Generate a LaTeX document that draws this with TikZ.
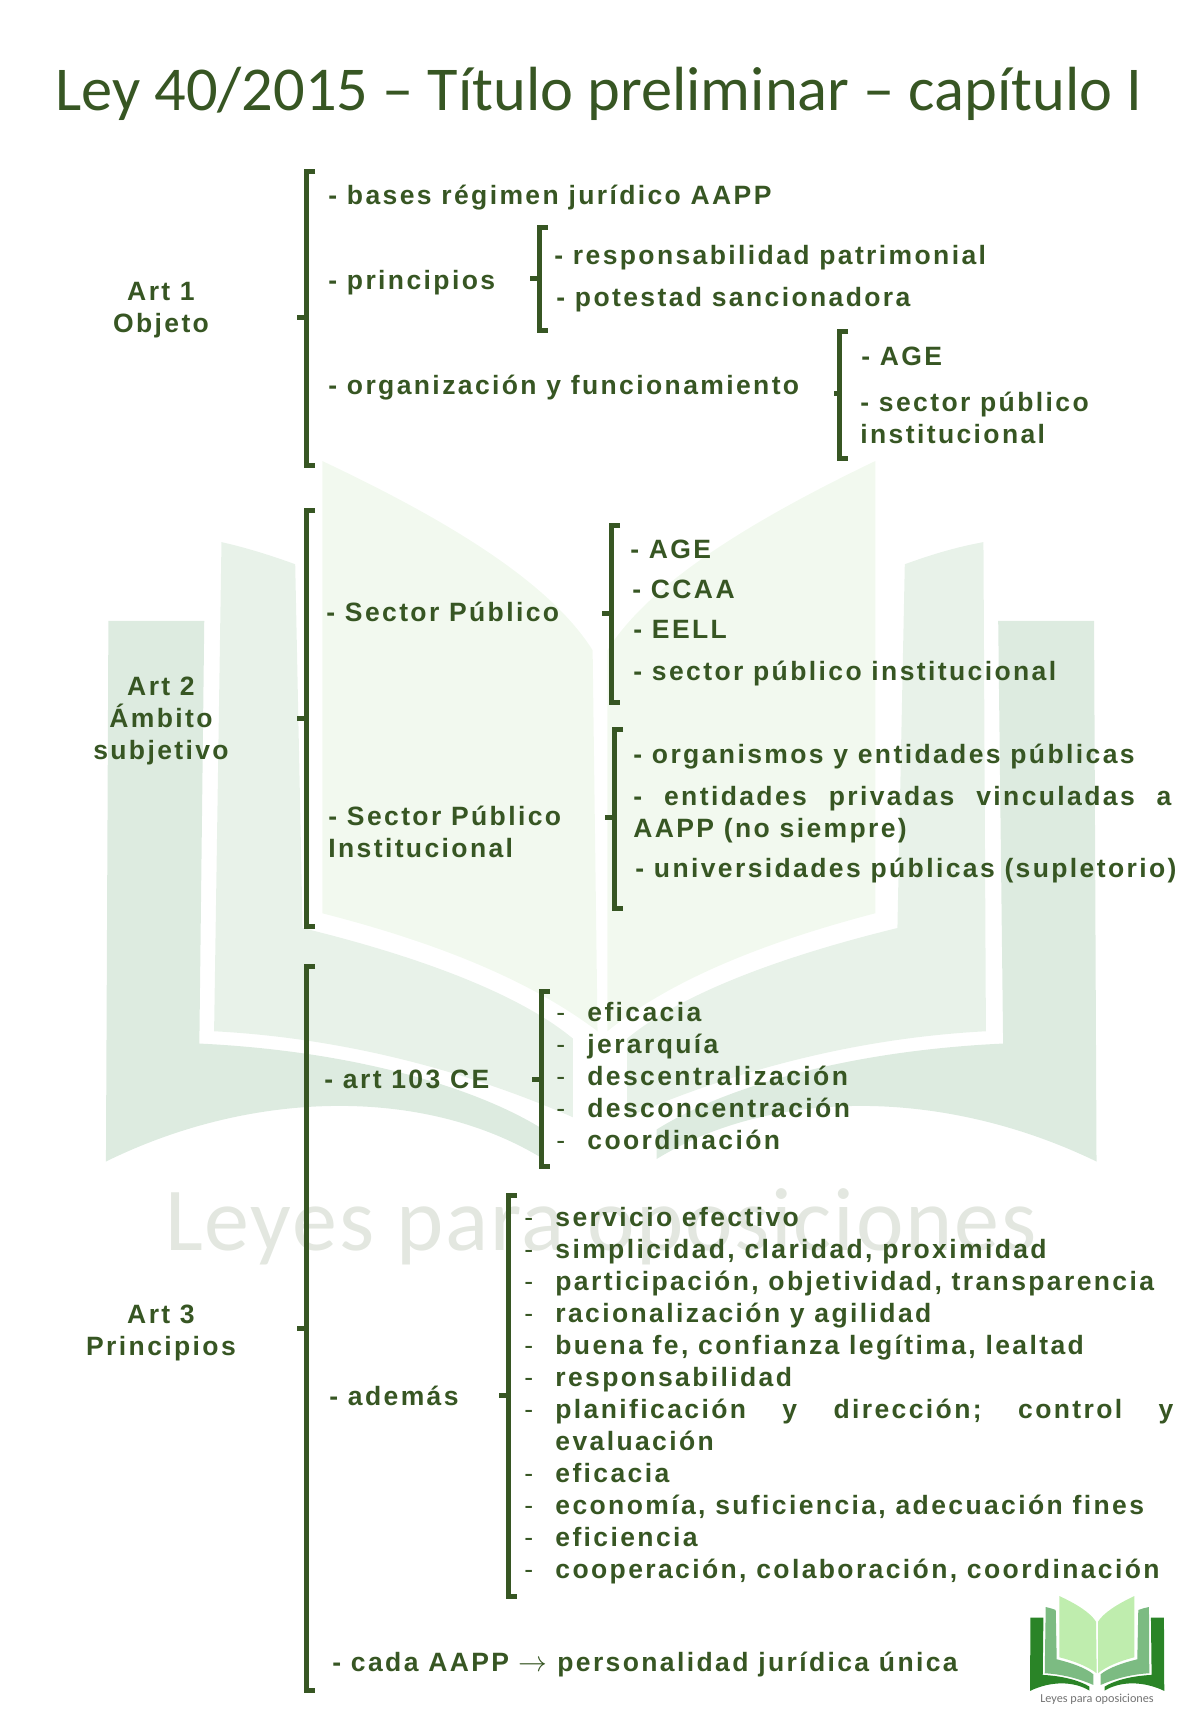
\documentclass[tikz,border=0pt]{standalone}
\usepackage{fontspec}
\setmainfont{Liberation Sans}
\newfontfamily\bodyfont[LetterSpace=9,BoldFont={Liberation Sans Bold}]{Liberation Sans}
\newfontfamily\headfont{Carlito}
\newfontfamily\markfont[LetterSpace=2]{Carlito}
\definecolor{leafgreen}{HTML}{375623}
\definecolor{wmlight}{HTML}{F2F9EF}
\definecolor{wmmid}{HTML}{E8F2E9}
\definecolor{wmdark}{HTML}{DDEBE0}
\definecolor{wmword}{HTML}{E3E7E0}
\definecolor{lglight}{HTML}{BFEDAE}
\definecolor{lgmid}{HTML}{7CBB82}
\definecolor{lgdark}{HTML}{2A8427}
\tikzset{
    titletext/.style={anchor=base west,inner sep=0pt,text=leafgreen,font=\headfont\fontsize{31.2}{31}\selectfont},
    bodytext/.style={anchor=base west,inner sep=0pt,text=leafgreen,font=\bodyfont\bfseries\fontsize{13.25}{16}\selectfont},
    arttext/.style={bodytext,anchor=base,align=center},
    bracketline/.style={draw=leafgreen,line width=2.5pt}
}
\newcommand{\bracketat}[5][9]{% tip length, x, top, tip, bottom
    \draw[bracketline] (#2+9,#3) -- (#2,#3) -- (#2,#5) -- (#2+9,#5);
    \draw[bracketline] (#2-#1,#4) -- (#2,#4);
}
\newcommand{\bookat}[6]{% x, y, scale, light, mid, dark
    \begin{scope}[shift={(#1,#2)},x=#3*0.5pt,y=-#3*0.5pt]
        \fill[#4] (-113,0) .. controls (-60,25) and (-20,50) .. (-3,77) -- (-1,232) .. controls (-30,210) and (-70,195) .. (-113,184) -- cycle;
        \fill[#4] (112,0) .. controls (60,25) and (20,50) .. (3,77) -- (3,232) .. controls (30,210) and (70,195) .. (112,184) -- cycle;
        \fill[#5] (-154,33) .. controls (-145,35) and (-135,38) .. (-124,42) -- (-121,190) .. controls (-80,200) and (-35,215) .. (-11,235) -- (-11,267) .. controls (-50,250) and (-100,235) .. (-157,232) -- cycle;
        \fill[#5] (156,33) .. controls (145,35) and (135,38) .. (124,42) -- (121,190) .. controls (80,200) and (35,215) .. (11,235) -- (11,267) .. controls (50,250) and (100,235) .. (157,232) -- cycle;
        \fill[#6] (-200,65) -- (-161,65) -- (-163,237) .. controls (-100,240) and (-50,255) .. (-23,272) -- (-23,284) .. controls (-70,255) and (-140,255) .. (-201,285) -- cycle;
        \fill[#6] (201,65) -- (162,65) -- (164,237) .. controls (100,240) and (50,255) .. (23,272) -- (23,284) .. controls (70,255) and (140,255) .. (202,285) -- cycle;
    \end{scope}
}
\newcommand{\itm}{\makebox[15.5pt][l]{\normalfont\mdseries-}}

\begin{document}
\begin{tikzpicture}[x=0.5pt,y=-0.5pt]
    \useasboundingbox (0,0) rectangle (1200,1733);

    % watermark
    \bookat{600}{461}{2.458}{wmlight}{wmmid}{wmdark}
    \node[inner sep=0pt,anchor=base west,text=wmword,font=\markfont\fontsize{45}{45}\selectfont] (wmark) at (165,1250) {Leyes para oposiciones};

    % logo
    \bookat{1097}{1596}{0.333}{lglight}{lgmid}{lgdark}
    \node[inner sep=0pt,anchor=base,text=black!55,font=\headfont\fontsize{6.1}{6}\selectfont] (logotext) at (1097,1702) {Leyes para oposiciones};

    \node[titletext] (head) at (55,111) {Ley 40/2015 – Título preliminar – capítulo I};

    % art 1
    \node[arttext] (art1) at (161,333) {Art 1\\Objeto};
    \bracketat{306}{172}{318}{465}
    \node[bodytext] (bases) at (328,205) {- bases régimen jurídico AAPP};
    \node[bodytext] (princ) at (328,290) {- principios};
    \bracketat{539}{228}{279}{331}
    \node[bodytext] (resp) at (554,265) {- responsabilidad patrimonial};
    \node[bodytext] (potest) at (556,307) {- potestad sancionadora};
    \node[bodytext] (organ) at (328,394) {- organización y funcionamiento};
    \bracketat[5]{839}{332}{393}{458}
    \node[bodytext] (age1) at (861,365) {- AGE};
    \node[bodytext,align=left] (spi1) at (860,443) {- sector público\\institucional};

    % art 2
    \node[arttext] (art2) at (161,759) {Art 2\\Ámbito\\subjetivo};
    \bracketat{306}{510}{718}{926}
    \node[bodytext] (sp) at (326,621) {- Sector Público};
    \bracketat{611}{525}{613}{702}
    \node[bodytext] (age2) at (630,558) {- AGE};
    \node[bodytext] (ccaa) at (632,598) {- CCAA};
    \node[bodytext] (eell) at (633,638) {- EELL};
    \node[bodytext] (spi2) at (633,680) {- sector público institucional};
    \node[bodytext,align=left] (spi3) at (328,857) {- Sector Público\\Institucional};
    \bracketat{614}{729}{817}{908}
    \node[bodytext] (orgs) at (633,763) {- organismos y entidades públicas};
    \node[bodytext,align=left] (priv) at (633,837) {\hbox to 269pt{-\hfill entidades\hfill privadas\hfill vinculadas\hfill a}\\AAPP (no siempre)};
    \node[bodytext] (univ) at (635,877) {- universidades públicas (supletorio)};

    % art 3
    \node[arttext] (art3) at (161,1355) {Art 3\\Principios};
    \bracketat{306}{966}{1328}{1690}
    \node[bodytext] (ce) at (324,1088) {- art 103 CE};
    \bracketat{541}{991}{1079}{1166}
    \foreach \nm/\yy/\txt in {a1/1021/eficacia,a2/1053/jerarquía,a3/1085/descentralización,a4/1117/desconcentración,a5/1149/coordinación}
        \node[bodytext] (\nm) at (556,\yy) {\itm\txt};
    \node[bodytext] (ademas) at (329,1405) {- además};
    \bracketat{508}{1195}{1395}{1596}
    \foreach \nm/\yy/\txt in {b1/1226/servicio efectivo,b2/1258/{simplicidad, claridad, proximidad},b3/1290/{participación, objetividad, transparencia},b4/1322/racionalización y agilidad,b5/1354/{buena fe, confianza legítima, lealtad},b6/1386/responsabilidad,b8/1482/eficacia,b9/1514/{economía, suficiencia, adecuación fines},b10/1546/eficiencia,b11/1578/{cooperación, colaboración, coordinación}}
        \node[bodytext] (\nm) at (524,\yy) {\itm\txt};
    \node[bodytext,align=left] (b7) at (524,1450) {\hbox to 324.5pt{\itm planificación\hfill y\hfill dirección;\hfill control\hfill y}\\\hspace*{15.5pt}evaluación};
    \node[bodytext] (cada) at (332,1671) {- cada AAPP $\rightarrow$ personalidad jurídica única};
\end{tikzpicture}
\end{document}
